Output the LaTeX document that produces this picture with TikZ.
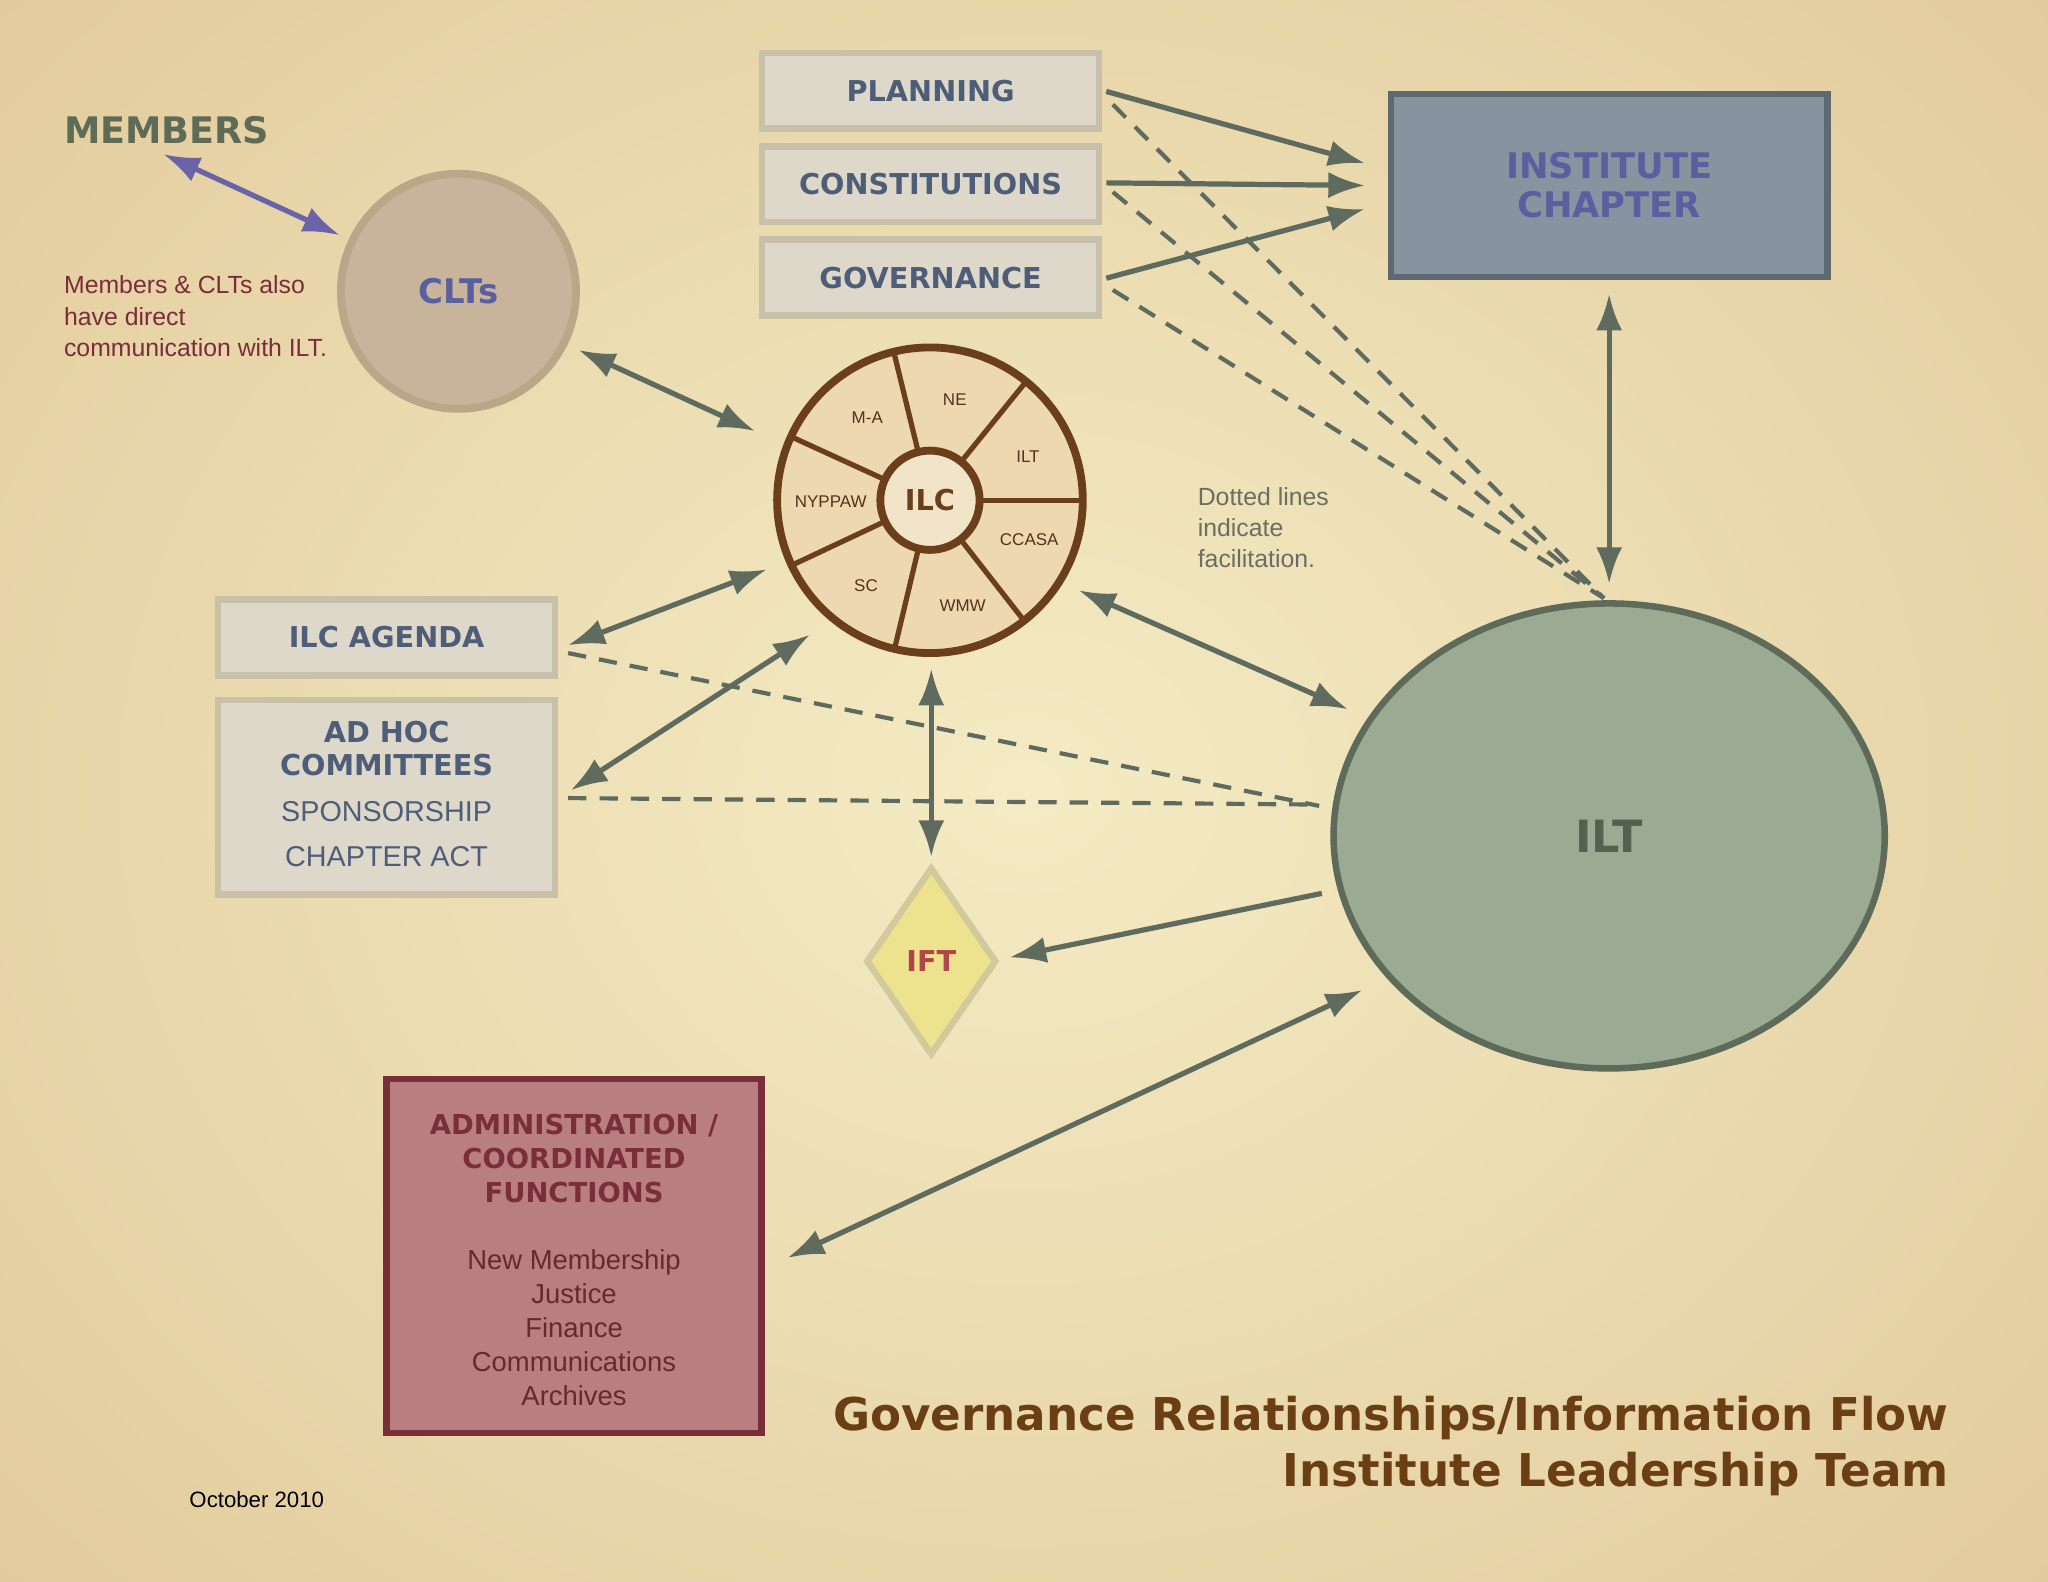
\documentclass[tikz,border=0pt]{standalone}
\usepackage{fontspec}
\setmainfont{Liberation Sans}
\newfontfamily\heavy{DejaVu Sans}
\usetikzlibrary{arrows.meta,shapes.geometric,calc}
\definecolor{bgin}{HTML}{F4EBC4}
\definecolor{bgout}{HTML}{E2CB9C}
\definecolor{arr}{HTML}{5E6B5E}
\definecolor{memb}{HTML}{5E6B57}
\definecolor{purp}{HTML}{6A63A8}
\definecolor{wine}{HTML}{7A2E3A}
\definecolor{boxf}{HTML}{DDD8CA}
\definecolor{boxd}{HTML}{C9C0AA}
\definecolor{boxt}{HTML}{4F5E78}
\definecolor{chf}{HTML}{8794A0}
\definecolor{chd}{HTML}{5F6A70}
\definecolor{cht}{HTML}{5A5FA0}
\definecolor{brn}{HTML}{6B3E1C}
\definecolor{ilcf}{HTML}{EDD8B2}
\definecolor{iltf}{HTML}{9BAA93}
\definecolor{iltd}{HTML}{5F6B5A}
\definecolor{iftf}{HTML}{EDE38F}
\definecolor{iftd}{HTML}{D2C99C}
\definecolor{iftc}{HTML}{B0454A}
\definecolor{admf}{HTML}{B87E80}
\definecolor{ttl}{HTML}{6B3E14}
\definecolor{cltf}{HTML}{C8B49A}
\definecolor{cltd}{HTML}{BBA68A}
\definecolor{note}{HTML}{6B6E60}
\tikzset{
  conn/.style={draw=arr,line width=2pt,{Latex[length=14pt,width=10pt]}-{Latex[length=14pt,width=10pt]}},
  conn1/.style={draw=arr,line width=2pt,-{Latex[length=14pt,width=10pt]}},
  dconn/.style={draw=arr,line width=1.6pt,dash pattern=on 7pt off 5pt},
  graybox/.style={draw=boxd,fill=boxf,line width=2.5pt,inner sep=0pt},
  boxtxt/.style={text=boxt,font=\heavy\bfseries\fontsize{11}{13}\selectfont},
}
\begin{document}
\begin{tikzpicture}[x=0.5pt,y=-0.5pt]
\useasboundingbox (0,0) rectangle (1568,1211);
\begin{scope}
\clip (0,0) rectangle (1568,1211);
\shade[inner color=bgin,outer color=bgout] (-300,-300) rectangle (1868,1511);
\end{scope}

% MEMBERS
\node[anchor=west,text=memb,font=\heavy\bfseries\fontsize{14}{16}\selectfont] (members) at (42,100) {MEMBERS};
\node[anchor=north west,align=left,text=wine,font=\fontsize{9.5}{12}\selectfont] (mnote) at (42,204) {Members \& CLTs also\\have direct\\communication with ILT.};
\node[circle,minimum size=90pt,inner sep=0pt,fill=cltf,draw=cltd,line width=3pt,text=cht,font=\heavy\bfseries\fontsize{13}{15}\selectfont] (clts) at (351,223) {CLTs};
\coordinate (m1) at (125,118); \coordinate (m2) at (260,180);
\draw[draw=purp,line width=2pt,{Latex[length=14pt,width=10pt]}-{Latex[length=14pt,width=10pt]}] (m1) -- (m2);

% top boxes
\node[graybox,minimum width=129pt,minimum height=29pt,boxtxt] (plan) at (712.5,69.5) {PLANNING};
\node[graybox,minimum width=129pt,minimum height=29pt,boxtxt] (const) at (712.5,141) {CONSTITUTIONS};
\node[graybox,minimum width=129pt,minimum height=29pt,boxtxt] (gov) at (712.5,212.5) {GOVERNANCE};

% Institute chapter
\node[draw=chd,fill=chf,line width=2.5pt,minimum width=167pt,minimum height=70pt,align=center,text=cht,font=\heavy\bfseries\fontsize{13.5}{15}\selectfont] (chap) at (1232,142) {INSTITUTE\\CHAPTER};

% ILC wheel
\coordinate (ilc) at (712,383);
\fill[ilcf] (ilc) circle[radius=117];
\foreach \a in {103.4,52,0,-51,-103.7,204.6,154.8}
  \draw[brn,line width=2pt] ($(ilc)+(\a:38)$) -- ($(ilc)+(\a:117)$);
\draw[brn,line width=3pt,fill=ilcf!70!white] (ilc) circle[radius=38];
\draw[brn,line width=3pt] (ilc) circle[radius=117];
\node[text=brn,font=\heavy\bfseries\fontsize{11}{13}\selectfont] (ilct) at (ilc) {ILC};
\tikzset{seg/.style={text=brn!80!black,font=\fontsize{6.5}{8}\selectfont}}
\node[seg] (sma) at (664,320) {M-A};
\node[seg] (sne) at (731,306) {NE};
\node[seg] (silt) at (787,350) {ILT};
\node[seg] (sny) at (636,384) {NYPPAW};
\node[seg] (scc) at (788,413) {CCASA};
\node[seg] (ssc) at (663,448) {SC};
\node[seg] (swm) at (737,464) {WMW};

\node[anchor=north west,align=left,text=note,font=\fontsize{9.5}{12}\selectfont] (dnote) at (910,366) {Dotted lines\\indicate\\facilitation.};

% left boxes
\node[graybox,minimum width=129pt,minimum height=29pt,boxtxt] (agenda) at (296,488) {ILC AGENDA};
\node[graybox,minimum width=129pt,minimum height=74.5pt] (adhoc) at (296,610.5) {};
\node[boxtxt,align=center,font=\heavy\bfseries\fontsize{11}{12.5}\selectfont] (adt) at (296,573) {AD HOC\\COMMITTEES};
\node[text=boxt,font=\fontsize{11}{13}\selectfont] (spon) at (296,621) {SPONSORSHIP};
\node[text=boxt,font=\fontsize{11}{13}\selectfont] (cact) at (296,656) {CHAPTER ACT};

% ILT
\node[ellipse,minimum width=211pt,minimum height=178pt,fill=iltf,draw=iltd,line width=2.5pt,text=iltd!90!black,font=\heavy\bfseries\fontsize{17}{19}\selectfont] (ilt) at (1232,640) {ILT};

% IFT
\node[diamond,minimum width=50pt,minimum height=72pt,inner sep=0pt,fill=iftf,draw=iftd,line width=2.5pt] (ift) at (713,736) {};
\node[text=iftc,font=\heavy\bfseries\fontsize{11}{13}\selectfont] (iftt) at (713,736) {IFT};

% Admin
\node[draw=wine,fill=admf,line width=2.5pt,minimum width=143.5pt,minimum height=135.5pt] (adm) at (439.5,961.5) {};
\node[anchor=north,align=center,text=wine,font=\heavy\bfseries\fontsize{10.5}{13}\selectfont] (admt) at (439.5,846) {ADMINISTRATION /\\COORDINATED\\FUNCTIONS};
\node[anchor=north,align=center,text=wine!85!black,font=\fontsize{10.5}{13}\selectfont] (admb) at (439.5,950) {New Membership\\Justice\\Finance\\Communications\\Archives};

% title
\node[anchor=north east,align=right,text=ttl,font=\heavy\bfseries\fontsize{17.3}{21.5}\selectfont] (title) at (1499,1062) {Governance Relationships/Information Flow\\Institute Leadership Team};
\node[anchor=west,font=\fontsize{8.5}{10}\selectfont] (date) at (138,1148) {October 2010};

% connectors
\coordinate (p1) at (847,70); \coordinate (c1) at (1045,125);
\coordinate (p2) at (847,140); \coordinate (c2) at (1045,142);
\coordinate (p3) at (847,213); \coordinate (c3) at (1045,160);
\draw[conn1] (p1) -- (c1);
\draw[conn1] (p2) -- (c2);
\draw[conn1] (p3) -- (c3);
\coordinate (d1) at (852,80); \coordinate (d2) at (852,147); \coordinate (d3) at (852,222);
\coordinate (it) at (1228,458);
\draw[dconn] (d1) -- (it);
\draw[dconn] (d2) -- (it);
\draw[dconn] (d3) -- (it);
\coordinate (ch1) at (1232,225); \coordinate (ch2) at (1232,447);
\draw[conn] (ch1) -- (ch2);
\coordinate (k1) at (443,268); \coordinate (k2) at (578,330);
\draw[conn] (k1) -- (k2);
\coordinate (a1) at (435,494); \coordinate (a2) at (587,436);
\draw[conn] (a1) -- (a2);
\coordinate (h1) at (437,605); \coordinate (h2) at (620,486);
\draw[conn] (h1) -- (h2);
\coordinate (f1) at (713,512); \coordinate (f2) at (713,656);
\draw[conn] (f1) -- (f2);
\coordinate (l1) at (826,452); \coordinate (l2) at (1032,543);
\draw[conn] (l1) -- (l2);
\coordinate (t1) at (1012,684); \coordinate (t2) at (773,733);
\draw[conn1] (t1) -- (t2);
\coordinate (r1) at (1043,758); \coordinate (r2) at (603,963);
\draw[conn] (r1) -- (r2);
\coordinate (g1) at (435,500); \coordinate (g2) at (1010,617);
\coordinate (q1) at (435,611); \coordinate (q2) at (1010,616);
\draw[dconn] (g1) -- (g2);
\draw[dconn] (q1) -- (q2);
\end{tikzpicture}
\end{document}
